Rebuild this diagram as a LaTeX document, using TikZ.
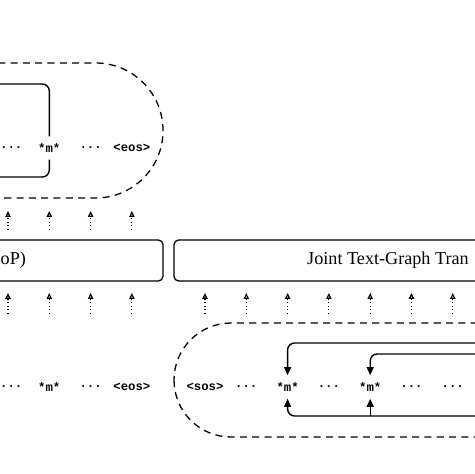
\documentclass[tikz,border=0pt]{standalone}
\usepackage{fontspec}
\setmainfont{Liberation Serif}
\setmonofont{Liberation Mono}
\usetikzlibrary{arrows.meta}

\begin{document}
\begin{tikzpicture}[x=0.03cm,y=-0.03cm,
  tok/.style={font=\ttfamily\bfseries\fontsize{10.5}{11}\selectfont,inner sep=0pt,minimum height=0.69cm},
  lbl/.style={font=\fontsize{15.5}{17}\selectfont,inner sep=0pt},
  layer/.style={draw,line width=1.1pt,rounded corners=4pt,inner sep=0pt},
  seq/.style={line width=1.1pt,dash pattern=on 6pt off 4.5pt},
  feed/.style={line width=1pt,dotted,-{Triangle[open,length=5pt,width=4.5pt]}},
  link/.style={line width=1.2pt,rounded corners=6pt},
  arr/.style={link,-{Triangle[length=7pt,width=6pt]}}]
\useasboundingbox (0,0) rectangle (474,474);

% sequences
\draw[seq,rounded corners=2.02cm] (-80,63) rectangle (163,198);
\draw[seq,rounded corners=1.71cm] (174,323) rectangle (560,437);

\node[tok,anchor=west] (o1) at (0,148) {...};
\node[tok] (om) at (49.3,148) {*m*};
\node[tok] (o2) at (90.6,148) {...};
\node[tok] (oe) at (131.9,148) {<eos>};

\node[tok,anchor=west] (i1) at (0,387) {...};
\node[tok] (im) at (49.3,387) {*m*};
\node[tok] (i2) at (90.6,387) {...};
\node[tok] (ie) at (131.9,387) {<eos>};

\node[tok] (s0) at (205,387) {<sos>};
\node[tok] (s1) at (246.3,387) {...};
\node[tok] (m1) at (287.6,387) {*m*};
\node[tok] (s2) at (328.9,387) {...};
\node[tok] (m2) at (370.2,387) {*m*};
\node[tok] (s3) at (411.5,387) {...};
\node[tok] (s4) at (452.8,387) {...};

% layers
\node[layer,minimum width=7.89cm,minimum height=1.23cm] (enc) at (31.5,260.5) {};
\node[layer,minimum width=15.78cm,minimum height=1.23cm] (joint) at (437,260.5) {};
\node[lbl,anchor=west] (encl) at (0.5,260) {oP)};
\node[lbl,anchor=west] (jointl) at (307,260) {Joint Text-Graph Tran};

% feeds
\foreach \x [count=\i] in {8,49.3,90.6,131.9}
  {\coordinate (ua\i) at (\x,230);
   \coordinate (ub\i) at (\x,211);
   \draw[feed] (ua\i) -- (ub\i);}
\foreach \x [count=\i] in {8,49.3,90.6,131.9,205,246.3,287.6,328.9,370.2,411.5,452.8}
  {\coordinate (da\i) at (\x,314);
   \coordinate (db\i) at (\x,293);
   \draw[feed] (da\i) -- (db\i);}

% links
\coordinate (lt) at (-20,84);
\coordinate (lb) at (-20,177);
\draw[link] (lt) -| (om.north);
\draw[link] (lb) -| (om.south);

\coordinate (rt1) at (500,343);
\coordinate (rt2) at (500,354);
\coordinate (rb) at (500,416);
\draw[arr] (rt1) -| (m1.north);
\draw[arr] (rt2) -| (m2.north);
\draw[arr] (rb) -| (m1.south);
\draw[arr] (m2.south |- rb) -- (m2.south);
\end{tikzpicture}
\end{document}
